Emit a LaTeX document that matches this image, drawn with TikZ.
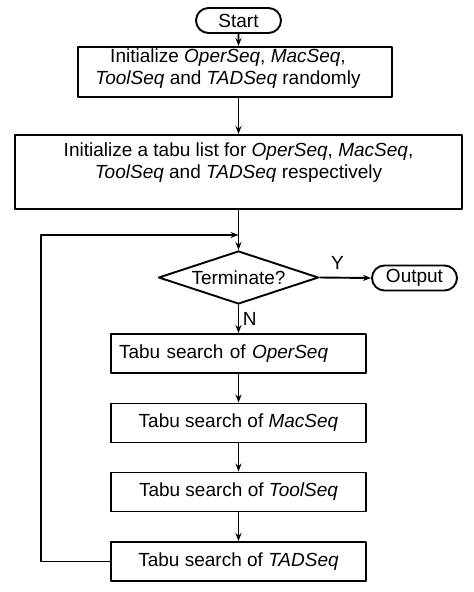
\documentclass[tikz,border=0pt]{standalone}
\usepackage{fontspec}
\setmainfont{Liberation Sans}
\usetikzlibrary{shapes.geometric,shapes.misc,arrows.meta}
\begin{document}
\begin{tikzpicture}[x=1pt,y=-1pt,line width=1.9pt,line join=round,
 >={Stealth[length=8pt,width=6pt]},
 font=\fontsize{19}{22}\selectfont,
 term/.style={draw,rounded rectangle,minimum width=85pt,minimum height=25pt,inner sep=0pt},
 box/.style={draw,align=center,inner sep=0pt},
 tabu/.style={box,minimum width=255pt,minimum height=39pt},
 decide/.style={draw,diamond,aspect=3,minimum width=160pt,minimum height=53pt,inner sep=0pt}]
 \useasboundingbox (0,0) rectangle (474,592);
 \node[term] (start) at (238.5,20.5) {Start};
 \node[box,minimum width=314pt,minimum height=50pt,text depth=11pt] (init) at (235,72)
  {Initialize \textit{OperSeq}, \textit{MacSeq},\hspace*{14pt}\\ \textit{ToolSeq} and \textit{TADSeq} randomly\hspace*{14pt}};
 \node[box,minimum width=447pt,minimum height=74pt,text depth=22pt] (tabulist) at (238.5,172)
  {Initialize a tabu list for \textit{OperSeq}, \textit{MacSeq},\\ \textit{ToolSeq} and \textit{TADSeq} respectively};
 \coordinate (merge) at (238.5,235);
 \node[decide] (stop) at (238.5,277.5) {Terminate?};
 \node[term] (output) at (414.5,278) {Output};
 \node[tabu,text width=239pt,align=left,inner xsep=8pt] (oper) at (238.5,353.5) {Tabu search of \textit{OperSeq}};
 \node[tabu] (mac) at (238.5,423) {Tabu search of \textit{MacSeq}};
 \node[tabu] (tool) at (238.5,492) {Tabu search of \textit{ToolSeq}};
 \node[tabu] (tad) at (238.5,561.5) {Tabu search of \textit{TADSeq}};
 % main chain
 \draw[->](start)--(start|-init.north);
 \draw[->](init.south-|tabulist)--(tabulist);
 \foreach\a/\b in{tabulist/stop,oper/mac,mac/tool,tool/tad}{\draw[->](\a)--(\b);}
 \draw[->](stop.east)--(output.west)node[pos=.35,above=4pt]{Y};
 \draw[->](stop.south)--(oper.north)node[midway,right]{N};
 % loop back
 \draw[->](tad.west)-|(41,235)--(merge);
\end{tikzpicture}
\end{document}
